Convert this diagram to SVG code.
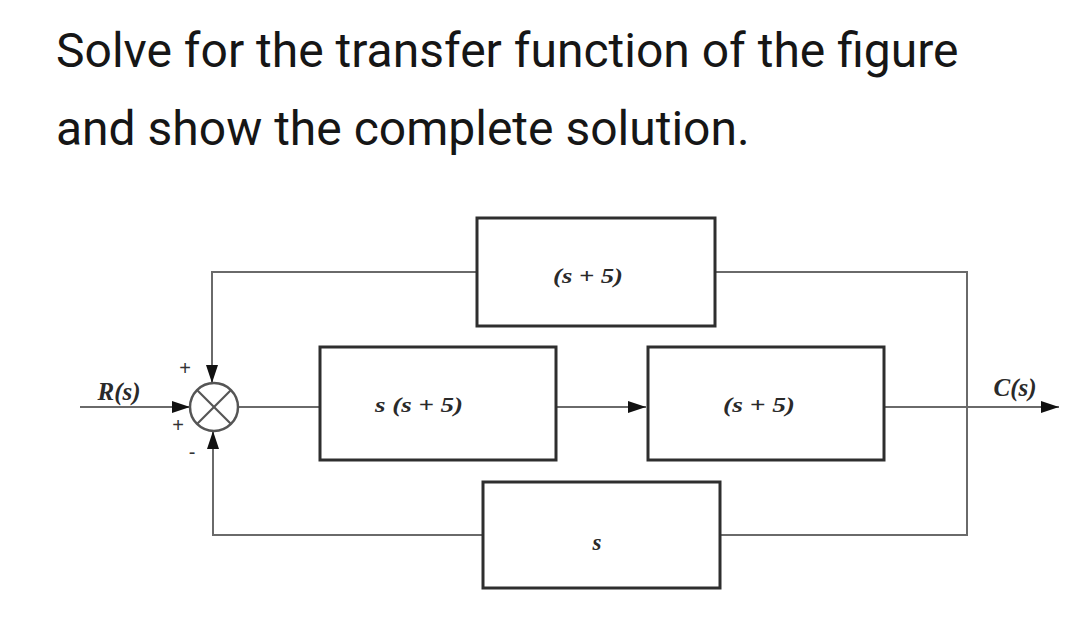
<svg xmlns="http://www.w3.org/2000/svg" width="1080" height="618" viewBox="0 0 1080 618">
  <style>
    .title { font-family: Roboto, "Liberation Sans", sans-serif; font-size: 48px; fill: #161616; }
    .blk { fill: #ffffff; stroke: #2e2e2e; stroke-width: 3; }
    .lbl { font-family: "Liberation Serif", serif; font-weight: bold; font-style: italic; font-size: 21px; fill: #2a2a2a; text-anchor: middle; }
    .sig { font-family: "Liberation Serif", serif; font-weight: bold; font-style: italic; font-size: 25px; fill: #2a2a2a; text-anchor: middle; }
    .sign { font-family: "Liberation Sans", sans-serif; font-size: 20px; fill: #333; text-anchor: middle; }
    .wire { fill: none; stroke: #6a6a6a; stroke-width: 2; }
    .sum { fill: #ffffff; stroke: #555; stroke-width: 2.5; }
    .cross { stroke: #555; stroke-width: 2.2; }
  </style>
  <defs>
    <marker id="arr" markerUnits="userSpaceOnUse" markerWidth="20" markerHeight="14" refX="18" refY="6" orient="auto">
      <path d="M0,0 L18,6 L0,12 Z" fill="#111"/>
    </marker>
  </defs>

  <g id="title">
    <text class="title" x="56" y="67">Solve for the transfer function of the figure</text>
    <text class="title" x="56" y="145">and show the complete solution.</text>
  </g>

  <g id="connectors">
    <line class="wire" x1="80" y1="407" x2="190" y2="407" marker-end="url(#arr)"/>
    <line class="wire" x1="238" y1="407" x2="320" y2="407"/>
    <line class="wire" x1="556" y1="407" x2="646" y2="407" marker-end="url(#arr)"/>
    <line class="wire" x1="884" y1="407" x2="1059" y2="407" marker-end="url(#arr)"/>
    <polyline class="wire" points="967,407 967,272 715,272"/>
    <polyline class="wire" points="477,272 212,272 212,383" marker-end="url(#arr)"/>
    <polyline class="wire" points="967,407 967,535 720,535"/>
    <polyline class="wire" points="483,535 213,535 213,431" marker-end="url(#arr)"/>
  </g>

  <g id="sum">
    <circle class="sum" cx="214" cy="407" r="24"/>
    <line class="cross" x1="197" y1="390" x2="231" y2="424"/>
    <line class="cross" x1="231" y1="390" x2="197" y2="424"/>
    <text class="sign" x="185" y="375">+</text>
    <text class="sign" x="178" y="432">+</text>
    <text class="sign" x="192" y="459">-</text>
  </g>

  <g id="input-label">
    <text class="sig" x="119" y="400">R(s)</text>
  </g>
  <g id="output-label">
    <text class="sig" x="1015" y="396">C(s)</text>
  </g>

  <g id="block-top">
    <rect class="blk" x="477" y="218" width="238" height="108"/>
    <text class="lbl" x="588" y="283" textLength="70" lengthAdjust="spacingAndGlyphs">(s + 5)</text>
  </g>
  <g id="block-g1">
    <rect class="blk" x="320" y="347" width="236" height="113"/>
    <text class="lbl" x="419" y="412" textLength="88" lengthAdjust="spacingAndGlyphs">s (s + 5)</text>
  </g>
  <g id="block-g2">
    <rect class="blk" x="648" y="347" width="236" height="113"/>
    <text class="lbl" x="759" y="412" textLength="72" lengthAdjust="spacingAndGlyphs">(s + 5)</text>
  </g>
  <g id="block-bottom">
    <rect class="blk" x="483" y="482" width="237" height="106"/>
    <text class="lbl" x="597" y="550" style="font-size:23px">s</text>
  </g>
</svg>
